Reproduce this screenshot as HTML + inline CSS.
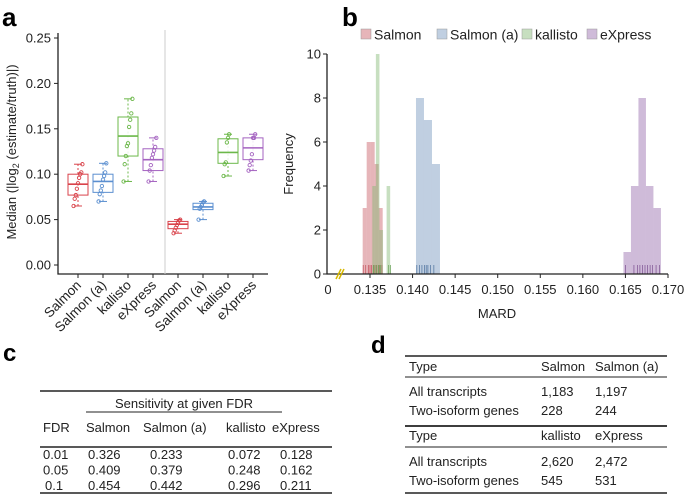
<!DOCTYPE html>
<html><head><meta charset="utf-8">
<style>
html,body{margin:0;padding:0;background:#fff;}
svg{display:block;font-family:"Liberation Sans",Arial,sans-serif;}
</style></head>
<body>
<svg id="fig" width="685" height="497" viewBox="0 0 685 497">
<g id="pa"></g>
<g id="pb"></g>
<g id="pc"></g>
<g id="pd"></g>
</svg>
<script>
// ---------- Panel a data ----------
const boxCats = ["Salmon","Salmon (a)","kallisto","eXpress","Salmon","Salmon (a)","kallisto","eXpress"];
const boxWhiskLo = [0.065,0.070,0.092,0.092,0.035,0.050,0.098,0.104];
const boxQ1      = [0.077,0.080,0.120,0.104,0.040,0.061,0.112,0.116];
const boxMed     = [0.089,0.092,0.142,0.116,0.045,0.064,0.124,0.129];
const boxQ3      = [0.100,0.100,0.163,0.128,0.048,0.068,0.139,0.140];
const boxWhiskHi = [0.111,0.112,0.183,0.140,0.050,0.070,0.144,0.144];
const boxPoints = [
 [0.065,0.073,0.077,0.084,0.090,0.096,0.100,0.102,0.111],
 [0.070,0.078,0.082,0.087,0.094,0.098,0.102,0.112],
 [0.092,0.111,0.120,0.131,0.134,0.152,0.160,0.167,0.183],
 [0.092,0.104,0.110,0.118,0.122,0.126,0.130,0.140],
 [0.035,0.038,0.041,0.044,0.047,0.049,0.050],
 [0.050,0.062,0.064,0.066,0.069,0.070],
 [0.098,0.111,0.113,0.135,0.140,0.144],
 [0.104,0.110,0.115,0.122,0.140,0.140,0.144]];
const yTicksA = [0,0.05,0.10,0.15,0.20,0.25];
const yTickLabelsA = ["0.00","0.05","0.10","0.15","0.20","0.25"];
const colsA = ["#d9434b","#5b8fd0","#6cb84a","#a463c0","#d9434b","#5b8fd0","#6cb84a","#a463c0"];

// ---------- Panel b data ----------
const histNames = ["Salmon","Salmon (a)","kallisto","eXpress"];
const histStart = [0.13414,0.14040,0.13527,0.16477];
const histWidth = [0.00047,0.00094,0.00042,0.00088];
const histSalmon  = [3,6,6,5,3];
const histSalmonA = [8,7,5];
const histKallisto= [4,10,2,0,4];
const histExpress = [1,4,8,4,3];
const rugSalmon  = [0.1342,0.1345,0.1348,0.1350,0.1352,0.1355,0.1358,0.1361,0.1364];
const rugSalmonA = [0.1405,0.1408,0.1411,0.1414,0.1416,0.1418,0.1421,0.1425];
const rugKallisto= [0.1354,0.1357,0.1360,0.1362,0.1372,0.1374];
const rugExpress = [0.1650,0.1660,0.1664,0.1667,0.1670,0.1673,0.1676,0.1679,0.1682,0.1686,0.1690];
const xTicksB = [0.135,0.140,0.145,0.150,0.155,0.160,0.165,0.170];
const xTickLabelsB = ["0.135","0.140","0.145","0.150","0.155","0.160","0.165","0.170"];
const yTicksB = [0,2,4,6,8,10];

const NS="http://www.w3.org/2000/svg";
function mk(parent,tag,attrs,text){const e=document.createElementNS(NS,tag);for(const k in attrs)e.setAttribute(k,attrs[k]);if(text!==undefined)e.textContent=text;parent.appendChild(e);return e;}

// ---------- Panel a ----------
(function(){
 const g=document.getElementById('pa');
 const y=v=>265-v*908;
 const x=i=>78+i*25;
 const t=mk(g,'text',{x:2,y:26,'font-size':26,'font-weight':'bold'},'a');
 
 
 const ax=mk(g,'path',{d:'M58,33 V274 H268',stroke:'#222','stroke-width':1.3,fill:'none'});
 
 
 const sep=mk(g,'line',{x1:165,x2:165,y1:30,y2:274,stroke:'#ccc','stroke-width':1});
 
 
 yTicksA.forEach((v,i)=>{
  mk(g,'line',{x1:54,x2:58,y1:y(v),y2:y(v),stroke:'#222'});
  const l=mk(g,'text',{x:51,y:y(v)+4.5,'font-size':13,'text-anchor':'end',fill:'#222'},yTickLabelsA[i]);
  
  
 });
 const yl=mk(g,'text',{transform:'translate(16,152) rotate(-90)','font-size':13,'text-anchor':'middle',fill:'#222'});
 
 
 mk(yl,'tspan',{},'Median (|log');
 mk(yl,'tspan',{'font-size':9,dy:3},'2');
 mk(yl,'tspan',{dy:-3},' (estimate/truth)|)');
 boxCats.forEach((c,i)=>{
  const cx=x(i),col=colsA[i];
  mk(g,'line',{x1:cx,x2:cx,y1:274,y2:278,stroke:'#222'});
  const l=mk(g,'text',{transform:`translate(${cx+4},${286}) rotate(-45)`,'font-size':13.5,'text-anchor':'end',fill:'#222'},c);
  
  
  const b=mk(g,'g',{});
  
  
  mk(b,'line',{x1:cx,x2:cx,y1:y(boxWhiskLo[i]),y2:y(boxWhiskHi[i]),stroke:col,'stroke-dasharray':'2,2','stroke-width':1});
  mk(b,'line',{x1:cx-4,x2:cx+4,y1:y(boxWhiskLo[i]),y2:y(boxWhiskLo[i]),stroke:col});
  mk(b,'line',{x1:cx-4,x2:cx+4,y1:y(boxWhiskHi[i]),y2:y(boxWhiskHi[i]),stroke:col});
  mk(b,'rect',{x:cx-10,y:y(boxQ3[i]),width:20,height:y(boxQ1[i])-y(boxQ3[i]),fill:'#fff','fill-opacity':0.85,stroke:col,'stroke-width':1});
  mk(b,'line',{x1:cx-10,x2:cx+10,y1:y(boxMed[i]),y2:y(boxMed[i]),stroke:col,'stroke-width':1.6});
  boxPoints[i].forEach((p,j)=>{
   const dx=((j*37)%9-4)*1.1;
   const pt=mk(b,'circle',{cx:cx+dx,cy:y(p),r:1.7,fill:'none',stroke:col,'stroke-width':0.9});
   
   
  });
 });
})();

// ---------- Panel b ----------
(function(){
 const g=document.getElementById('pb');
 const x=v=>370+(v-0.135)*8514;
 const y=v=>274-v*22;
 const t=mk(g,'text',{x:342,y:26,'font-size':26,'font-weight':'bold'},'b');
 
 
 const fills=['rgba(200,90,100,0.45)','rgba(130,160,195,0.5)','rgba(130,185,115,0.45)','rgba(160,120,180,0.5)'];
 const rugc=['#c24a55','#4a6f9c','#5f9b4c','#7c4f90'];
 const counts=[histSalmon,histSalmonA,histKallisto,histExpress];
 const rugs=[rugSalmon,rugSalmonA,rugKallisto,rugExpress];
 counts.forEach((arr,s)=>{
  arr.forEach((c,k)=>{
   if(!c)return;
   const x0=x(histStart[s]+k*histWidth[s]),x1=x(histStart[s]+(k+1)*histWidth[s]);
   const r=mk(g,'rect',{x:x0,y:y(c),width:x1-x0,height:y(0)-y(c),fill:fills[s]});
   
   
  });
  rugs[s].forEach(v=>{
   const l=mk(g,'line',{x1:x(v),x2:x(v),y1:265,y2:274,stroke:rugc[s],'stroke-width':0.7});
   
   
  });
 });
 const ax=mk(g,'path',{d:'M327,54 V274 H668',stroke:'#222','stroke-width':1.3,fill:'none'});
 
 
 const br=mk(g,'path',{d:'M336,279 L341,269 M339,279 L344,269',stroke:'#d8b800','stroke-width':1.5});
 
 
 yTicksB.forEach(v=>{
  mk(g,'line',{x1:323,x2:327,y1:y(v),y2:y(v),stroke:'#222'});
  const l=mk(g,'text',{x:321,y:y(v)+4.5,'font-size':13,'text-anchor':'end',fill:'#222'},String(v));
  
  
 });
 const z=mk(g,'text',{x:328,y:294,'font-size':13,'text-anchor':'middle',fill:'#222'},'0');
 
 
 xTicksB.forEach((v,i)=>{
  mk(g,'line',{x1:x(v),x2:x(v),y1:274,y2:278,stroke:'#222'});
  const l=mk(g,'text',{x:x(v),y:294,'font-size':13,'text-anchor':'middle',fill:'#222'},xTickLabelsB[i]);
  
  
 });
 const xl=mk(g,'text',{x:497,y:318,'font-size':13,'text-anchor':'middle',fill:'#222'},'MARD');
 
 
 const yl=mk(g,'text',{transform:'translate(293,164) rotate(-90)','font-size':13,'text-anchor':'middle',fill:'#222'},'Frequency');
 
 
 const lx=[361,437,522,587];
 histNames.forEach((n,s)=>{
  const e=mk(g,'g',{});
  
  
  mk(e,'rect',{x:lx[s],y:29,width:10,height:10,fill:fills[s],stroke:'#999','stroke-width':0.5});
  mk(e,'text',{x:lx[s]+13,y:39.5,'font-size':14,fill:'#222'},n);
 });
})();

// ---------- Panel c ----------
(function(){
 const g=document.getElementById('pc');
 const t=mk(g,'text',{x:3,y:361,'font-size':24,'font-weight':'bold'},'c');
 
 
 const L=(x1,x2,y,w)=>mk(g,'line',{x1,x2,y1:y,y2:y,stroke:'#222','stroke-width':w});
 L(40,332,391,1.5);L(86,282,412,1);L(40,332,447,1.5);L(40,332,493,1.5);
 const T=(x,y,s,a)=>{const e=mk(g,'text',{x,y,'font-size':13,fill:'#222','text-anchor':a||'start'},s);};
 T(184,408,'Sensitivity at given FDR','middle');
 T(43,432,'FDR');T(86,432,'Salmon');T(143,432,'Salmon (a)');T(226,432,'kallisto');T(272,432,'eXpress');
 const rows=[['0.01','0.326','0.233','0.072','0.128'],['0.05','0.409','0.379','0.248','0.162'],['0.1','0.454','0.442','0.296','0.211']];
 const xs=[43,88,150,228,280];
 rows.forEach((r,i)=>r.forEach((c,j)=>T(xs[j]+(j==0&&i==2?2:0),459+i*15.5,c)));
})();

// ---------- Panel d ----------
(function(){
 const g=document.getElementById('pd');
 const t=mk(g,'text',{x:371,y:353,'font-size':24,'font-weight':'bold'},'d');
 
 
 const L=(y,w)=>mk(g,'line',{x1:405,x2:667,y1:y,y2:y,stroke:'#222','stroke-width':w});
 L(356,1.5);L(377,1);L(426,1.8);L(447,1);L(493,1.5);
 const T=(x,y,s)=>{const e=mk(g,'text',{x,y,'font-size':13,fill:'#222'},s);};
 const rows=[[371,'Type','Salmon','Salmon (a)'],[396,'All transcripts','1,183','1,197'],[415,'Two-isoform genes','228','244'],
   [440,'Type','kallisto','eXpress'],[466,'All transcripts','2,620','2,472'],[485,'Two-isoform genes','545','531']];
 rows.forEach(r=>{T(409,r[0],r[1]);T(541,r[0],r[2]);T(595,r[0],r[3]);});
})();
</script>
</body></html>
